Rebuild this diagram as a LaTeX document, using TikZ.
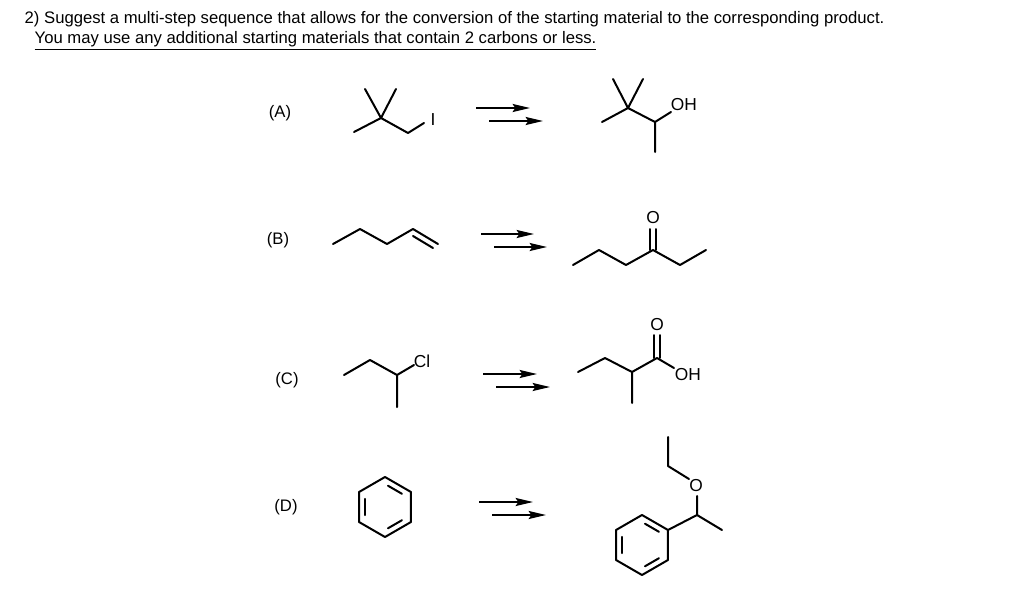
\documentclass[tikz,border=0pt]{standalone}
\usepackage{fontspec}
\setmainfont{Liberation Sans}
\usetikzlibrary{arrows.meta,calc}
\begin{document}
\begin{tikzpicture}[x=0.75pt,y=-0.75pt,
  bond/.style={line width=1.5pt,line cap=round,line join=round},
  rxn/.style={line width=1.5pt,-{Stealth[length=13pt,width=6pt,inset=2pt]}},
  atom/.style={font=\fontsize{13}{15}\selectfont,inner sep=0.5pt},
  lab/.style={font=\fontsize{12.5}{15}\selectfont}]
\useasboundingbox (0,0) rectangle (1024,589);
\node[lab,anchor=west] (t1) at (20,19) {2) Suggest a multi-step sequence that allows for the conversion of the starting material to the corresponding product.};
\node[lab,anchor=west] (t2) at (30,41) {\underline{You may use any additional starting materials that contain 2 carbons or less.}};
\node[lab] (la) at (280,113) {(A)};
\node[lab] (lb) at (278,240) {(B)};
\node[lab] (lc) at (287,380) {(C)};
\node[lab] (ld) at (286,507) {(D)};
% A start
\coordinate (a1) at (381,118);
\draw[bond] (365,89)--(a1)--(396,89) (354,132)--(a1)--(408,133)--(424,123);
\node[atom] (ai) at (433,120) {I};
% A arrows
\draw[rxn] (476,108)--(530,108); \draw[rxn] (489,121)--(543,121);
% A product
\coordinate (p1) at (628,108); \coordinate (p2) at (655,122);
\draw[bond] (613,79)--(p1)--(643,79) (602,122)--(p1)--(p2)--(655,152) (p2)--(671,112);
\node[atom,anchor=west] (aoh) at (670,105) {OH};
% B start
\draw[bond] (333,244)--(360,229)--(387,244)--(413,229)--(438,244);
\draw[bond] (413,236)--(433,248);
\draw[rxn] (481,234)--(534,234); \draw[rxn] (494,247)--(547,247);
% B product
\draw[bond] (573,265)--(599,250)--(626,265)--(653,250)--(680,265)--(706,250);
\draw[bond] (650,250)--(650,229) (656,250)--(656,229);
\node[atom] (bo) at (653,218) {O};
% C start
\draw[bond] (344,375)--(370,360)--(397,375)--(397,407) (397,375)--(414,365);
\node[atom,anchor=west] (ccl) at (413,361) {Cl};
\draw[rxn] (483,374)--(537,374); \draw[rxn] (496,387)--(550,387);
% C product
\draw[bond] (578,372)--(605,358)--(632,372)--(632,403) (632,372)--(657,358)--(674,368);
\draw[bond] (654,358)--(654,335) (660,358)--(660,335);
\node[atom] (co) at (657,325) {O};
\node[atom,anchor=west] (coh) at (674,375) {OH};
% benzenes
\foreach \cx/\cy in {385/507,642/545}{
\begin{scope}[shift={(\cx,\cy)}]
\draw[bond] (90:30)--(30:30)--(-30:30)--(-90:30)--(-150:30)--(150:30)--cycle;
\foreach \a/\b in {150/210,90/30,-30/-90}
  \draw[bond] ($(\a:23)!0.15!(\b:23)$)--($(\a:23)!0.85!(\b:23)$);
\end{scope}}
\draw[rxn] (479,502)--(533,502); \draw[rxn] (492,515)--(546,515);
% D product
\coordinate (d1) at (668,530); \coordinate (d2) at (697,515);
\draw[bond] (d1)--(d2)--(722,530) (d2)--(697,496) (689,479)--(668,466)--(668,437);
\node[atom] (dox) at (696,486) {O};
\end{tikzpicture}
\end{document}
